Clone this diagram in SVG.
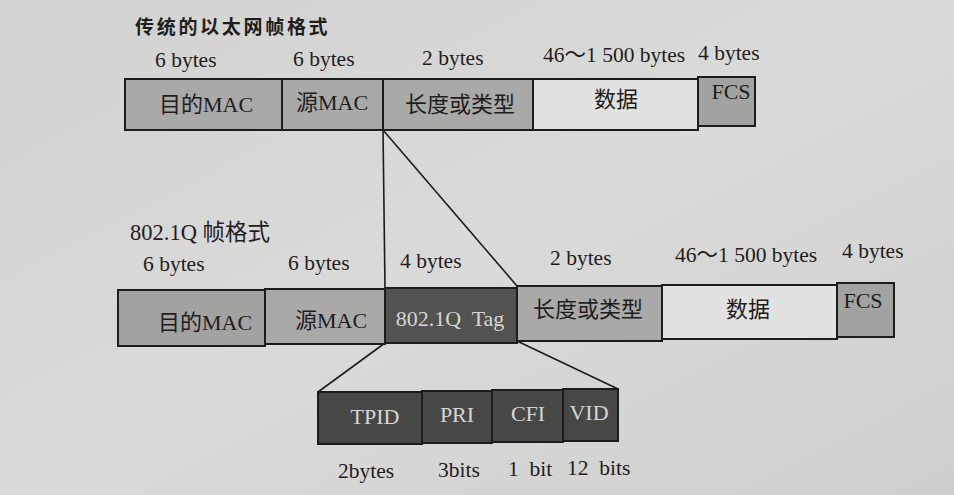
<svg xmlns="http://www.w3.org/2000/svg" width="954" height="495" viewBox="0 0 954 495">
<defs>
<linearGradient id="bg" x1="0" y1="0" x2="1" y2="1">
<stop offset="0" stop-color="#d2d2d0"/>
<stop offset="0.5" stop-color="#dadad8"/>
<stop offset="1" stop-color="#cfcfcd"/>
</linearGradient>
</defs>
<style>
text{font-family:"Liberation Serif","Noto Sans CJK SC",serif;font-size:21.5px;fill:#1e1e1e}
.title{font-family:"Noto Sans CJK SC","Noto Sans CJK JP",sans-serif;font-weight:bold;font-size:19px;letter-spacing:2.7px}
.title2{font-size:22.5px}
.in{font-size:22px;text-anchor:middle}
.lt{fill:#d6d6d4}
.box{stroke:#1c1c1c;stroke-width:2}
.g1{fill:#a9a9a7}
.g2{fill:#e2e2e0}
.g3{fill:#a2a2a0}
.dk{fill:#525250}
.dk2{fill:#474745}
.conn{stroke:#1c1c1c;stroke-width:1.6;fill:none}
</style>
<rect width="954" height="495" fill="url(#bg)"/>
<text class="title" x="135" y="34">传统的以太网帧格式</text>
<g id="top-labels">
<text x="155" y="67">6 bytes</text>
<text x="293" y="66">6 bytes</text>
<text x="422" y="65">2 bytes</text>
<text x="543" y="62">46～1 500 bytes</text>
<text x="698" y="60">4 bytes</text>
</g>
<g id="top-dstmac"><rect class="box g1" x="125" y="79" width="157" height="51"/><text class="in" x="206" y="112">目的MAC</text></g>
<g id="top-srcmac"><rect class="box g1" x="282" y="79" width="101" height="51"/><text class="in" x="332" y="110">源MAC</text></g>
<g id="top-type"><rect class="box g1" x="383" y="79" width="150" height="51"/><text class="in" x="460" y="112">长度或类型</text></g>
<g id="top-data"><rect class="box g2" x="533" y="79" width="165" height="51"/><text class="in" x="616" y="107">数据</text></g>
<g id="top-fcs"><rect class="box g3" x="698" y="77" width="57" height="49"/><text class="in" x="731" y="99">FCS</text></g>

<text class="title2" x="130" y="240">802.1Q 帧格式</text>
<g id="q-labels">
<text x="143" y="271">6 bytes</text>
<text x="288" y="270">6 bytes</text>
<text x="400" y="268">4 bytes</text>
<text x="550" y="265">2 bytes</text>
<text x="675" y="262">46～1 500 bytes</text>
<text x="842" y="258">4 bytes</text>
</g>
<g id="q-dstmac"><rect class="box g3" x="118" y="290" width="147" height="56"/><text class="in" x="205" y="330">目的MAC</text></g>
<g id="q-srcmac"><rect class="box g1" x="265" y="289" width="120" height="55"/><text class="in" x="331" y="328">源MAC</text></g>
<g id="q-tag"><rect class="box dk" x="385" y="288" width="132" height="55"/><text class="in lt" x="450" y="326" xml:space="preserve">802.1Q  Tag</text></g>
<g id="q-type"><rect class="box g1" x="517" y="286" width="145" height="55"/><text class="in" x="588" y="317">长度或类型</text></g>
<g id="q-data"><rect class="box g2" x="662" y="285" width="175" height="54"/><text class="in" x="748" y="317">数据</text></g>
<g id="q-fcs"><rect class="box g3" x="837" y="283" width="57" height="54"/><text class="in" x="863" y="308">FCS</text></g>

<g id="tag-tpid"><rect class="box dk2" x="318" y="392" width="104" height="52"/><text class="in lt" x="375" y="424">TPID</text></g>
<g id="tag-pri"><rect class="box dk2" x="422" y="391" width="70" height="52"/><text class="in lt" x="457" y="422">PRI</text></g>
<g id="tag-cfi"><rect class="box dk2" x="492" y="390" width="71" height="52"/><text class="in lt" x="528" y="421">CFI</text></g>
<g id="tag-vid"><rect class="box dk2" x="563" y="389" width="55" height="52"/><text class="in lt" x="589" y="420">VID</text></g>
<g id="tag-labels">
<text x="338" y="478">2bytes</text>
<text x="438" y="477">3bits</text>
<text x="508" y="476" xml:space="preserve">1  bit</text>
<text x="567" y="475" xml:space="preserve">12  bits</text>
</g>

<g id="connectors">
<line class="conn" x1="383" y1="130" x2="385" y2="288"/>
<line class="conn" x1="383" y1="130" x2="517" y2="286"/>
<line class="conn" x1="385" y1="343" x2="318" y2="392"/>
<line class="conn" x1="517" y1="341" x2="618" y2="389"/>
</g>
</svg>
